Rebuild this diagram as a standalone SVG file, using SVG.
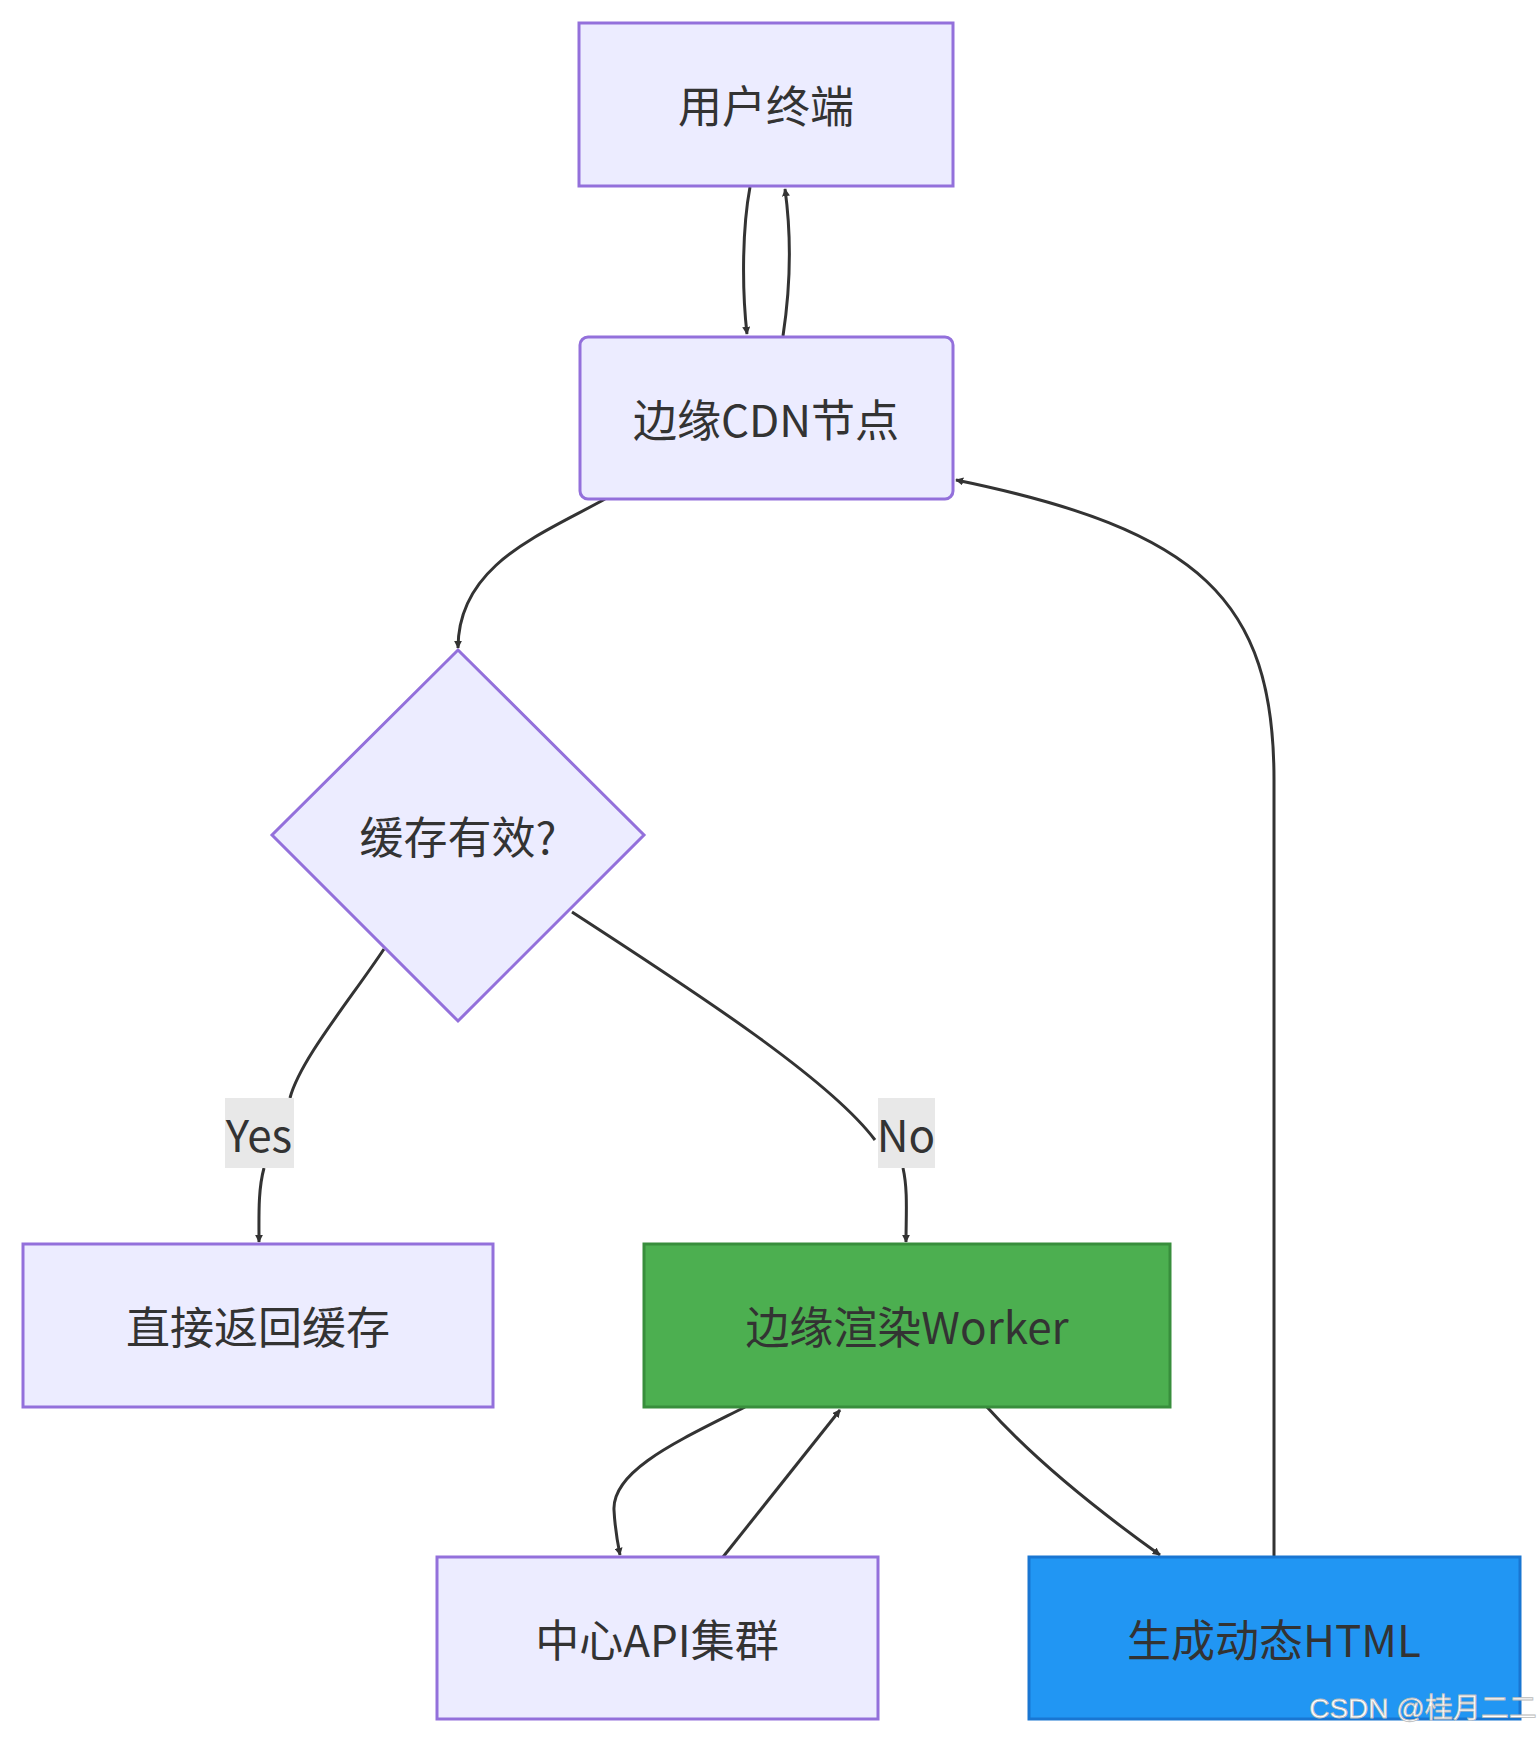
<svg xmlns="http://www.w3.org/2000/svg" width="1539" height="1739" viewBox="0 0 1539 1739">
<style>
.n{fill:#ececff;stroke:#9370db;stroke-width:3}
.t{font-family:"Noto Sans CJK SC","Liberation Sans",sans-serif;font-size:44px;fill:#333;text-anchor:middle;dominant-baseline:central}
.e{fill:none;stroke:#333;stroke-width:3;marker-end:url(#a)}
.lb{fill:#e8e8e8}
</style>
<defs><marker id="a" viewBox="0 0 10 10" refX="9" refY="5" markerWidth="8" markerHeight="8" orient="auto" markerUnits="userSpaceOnUse" ><path d="M0,0L10,5L0,10z" fill="#333"/></marker></defs>
<rect width="1539" height="1739" fill="#fff"/>
<g id="edges">
<path class="e" d="M750,187 C742,230 742,290 747,334"/>
<path class="e" d="M783,336 C790,290 792,240 785,189"/>
<path class="e" d="M605,499 C540,535 458,565 458,648"/>
<path class="e" d="M384,949 C350,1000 300,1060 290,1098 M264,1168 C258,1190 259,1215 259,1242"/>
<path class="e" d="M572,912 C700,995 830,1080 875,1140 M903,1168 C908,1190 906,1215 906,1242"/>
<path class="e" d="M745,1407 C680,1440 612,1470 614,1510 C615,1530 618,1545 620,1555"/>
<path class="e" d="M723,1557 L840,1410"/>
<path class="e" d="M987,1407 C1030,1455 1090,1505 1160,1555"/>
<path class="e" d="M1274,1557 L1274,780 C1274,600 1200,530 956,480"/>
</g>
<g id="yes"><rect class="lb" x="225" y="1098" width="69" height="70"/><text class="t" x="259" y="1133">Yes</text></g>
<g id="no"><rect class="lb" x="878" y="1098" width="57" height="70"/><text class="t" x="906" y="1133">No</text></g>
<g id="user"><rect class="n" x="579" y="23" width="374" height="163"/><text class="t" x="766" y="104">用户终端</text></g>
<g id="cdn"><rect class="n" x="580" y="337" width="373" height="162" rx="8"/><text class="t" x="766" y="418">边缘CDN节点</text></g>
<g id="cache"><path class="n" d="M458,650 L644,835 L458,1021 L272,835 Z"/><text class="t" x="458" y="835">缓存有效?</text></g>
<g id="ret"><rect class="n" x="23" y="1244" width="470" height="163"/><text class="t" x="258" y="1325">直接返回缓存</text></g>
<g id="worker"><rect x="644" y="1244" width="526" height="163" fill="#4caf50" stroke="#388e3c" stroke-width="3"/><text class="t" x="907" y="1325">边缘渲染Worker</text></g>
<g id="api"><rect class="n" x="437" y="1557" width="441" height="162"/><text class="t" x="657" y="1638">中心API集群</text></g>
<g id="html"><rect x="1029" y="1557" width="491" height="162" fill="#2196f3" stroke="#1976d2" stroke-width="3"/><text class="t" x="1274" y="1638">生成动态HTML</text></g>
<text x="1423" y="1718" font-family="Liberation Sans,Noto Sans CJK SC,sans-serif" font-size="28" fill="#fff" stroke="#bbb" stroke-width="0.8" text-anchor="middle">CSDN @桂月二二</text>
</svg>
